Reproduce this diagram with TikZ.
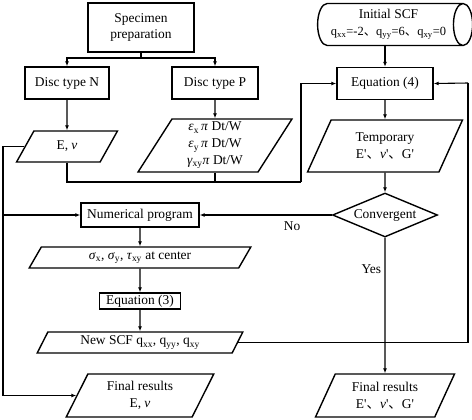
\documentclass[tikz,border=0pt]{standalone}
\usepackage{fontspec}
\setmainfont{Liberation Serif}
\newfontfamily\cjk{Noto Sans CJK SC}
\usetikzlibrary{arrows.meta,shapes.geometric}
\newcommand{\dun}{{\cjk 、}}
\newcommand{\gk}[1]{\textit{#1}}
\newcommand{\pr}{\textquotesingle}
\begin{document}
\begin{tikzpicture}[x=1bp,y=-1bp,
        font=\fontsize{13.5}{17}\selectfont,
        box/.style={draw, line width=1.4bp, inner sep=1bp, align=center},
        io/.style={draw, line width=1.4bp, trapezium, trapezium left angle=65,
            trapezium right angle=115, trapezium stretches=true, inner sep=1bp, align=center},
        line/.style={line width=1.1bp},
        arr/.style={line, -{Latex[length=5bp,width=4bp]}}]
        \useasboundingbox (0,0) rectangle (472,419);
        % left column
        \node[box, minimum width=106bp, minimum height=49bp] (spec) at (141,27.5) {Specimen\\preparation};
        \node[box, minimum width=84bp, minimum height=32bp] (discN) at (67,83) {Disc type N};
        \node[box, minimum width=86bp, minimum height=32bp] (discP) at (215,83) {Disc type P};
        \node[io, minimum width=101bp, minimum height=31bp] (enu) at (67,146.5) {E,\ \gk{ν}};
        \node[io, minimum width=154bp, minimum height=53bp] (strain) at (215,145.5)
            {\gk{ε}\textsubscript{x}\,\gk{π} Dt/W\\\gk{ε}\textsubscript{y}\,\gk{π} Dt/W\\\gk{γ}\textsubscript{xy}\gk{π} Dt/W};
        \node[box, minimum width=118bp, minimum height=24bp] (num) at (140,215) {Numerical program};
        \node[io, minimum width=222bp, minimum height=21bp] (sig) at (140,257.5)
            {\gk{σ}\textsubscript{x}, \gk{σ}\textsubscript{y}, \gk{τ}\textsubscript{xy} at center};
        \node[box, minimum width=81bp, minimum height=16bp] (eq3) at (140,301) {Equation (3)};
        \node[io, minimum width=206bp, minimum height=21bp] (newscf) at (140,342.5)
            {New SCF q\textsubscript{xx}, q\textsubscript{yy}, q\textsubscript{xy}};
        \node[io, minimum width=148bp, minimum height=43bp] (fin1) at (140,395.5) {Final results\\E,\ \gk{ν}};
        % right column
        \node[draw, line width=1.4bp, cylinder, shape border rotate=0, aspect=0.6, align=center,
            inner sep=1bp, minimum width=42bp, minimum height=155bp] (init) at (388.5,24.5)
            {Initial SCF\\{\fontsize{12.5}{15}\selectfont q\textsubscript{xx}=-2\dun q\textsubscript{yy}=6\dun q\textsubscript{xy}=0}};
        \node[box, minimum width=96bp, minimum height=32bp] (eq4) at (385,83.5) {Equation (4)};
        \node[io, minimum width=155bp, minimum height=52bp] (temp) at (385,146)
            {Temporary\\E\pr\dun\gk{ν}\pr\dun G\pr};
        \node[draw, line width=1.4bp, diamond, aspect=2.4, inner sep=0pt,
            minimum width=105bp, minimum height=44bp] (conv) at (385,215) {Convergent};
        \node[io, minimum width=140bp, minimum height=43bp] (fin2) at (385,395.5)
            {Final results\\E\pr\dun\gk{ν}\pr\dun G\pr};
        % junctions
        \coordinate (split) at (141,58);
        \coordinate (merge) at (301,182);
        \coordinate (leftrail) at (3,215);
        \coordinate (rightrail) at (468,83);
        % connectors
        \draw[line] (spec.south) -- (split);
        \draw[arr] (split) -| (discN.north);
        \draw[arr] (split) -| (discP.north);
        \draw[arr] (discN) -- (enu);
        \draw[arr] (discP) -- (strain);
        \draw[line] (enu.south) |- (merge);
        \draw[line] (strain.south) -- (strain.south |- merge);
        \draw[arr] (merge) |- (eq4.west);
        \draw[arr] (enu.west) -| (leftrail) |- (fin1.west);
        \draw[arr] (leftrail) -- (num.west);
        \draw[arr] (eq4.north |- init.south) -- (eq4.north);
        \draw[arr] (eq4) -- (temp);
        \draw[arr] (temp) -- (conv);
        \draw[arr] (conv.west) -- node[below=3bp, pos=0.3]{No} (num.east);
        \draw[arr] (conv.south) -- node[left, pos=0.23]{Yes} (fin2.north);
        \draw[arr] (num) -- (sig);
        \draw[arr] (sig) -- (eq3);
        \draw[arr] (eq3) -- (newscf);
        \draw[line] (newscf.east) -- (newscf.east -| rightrail);
        \draw[line width=2.2bp] (newscf.east -| rightrail) -- (rightrail);
        \draw[arr] (rightrail) -- (eq4.east);
\end{tikzpicture}
\end{document}
